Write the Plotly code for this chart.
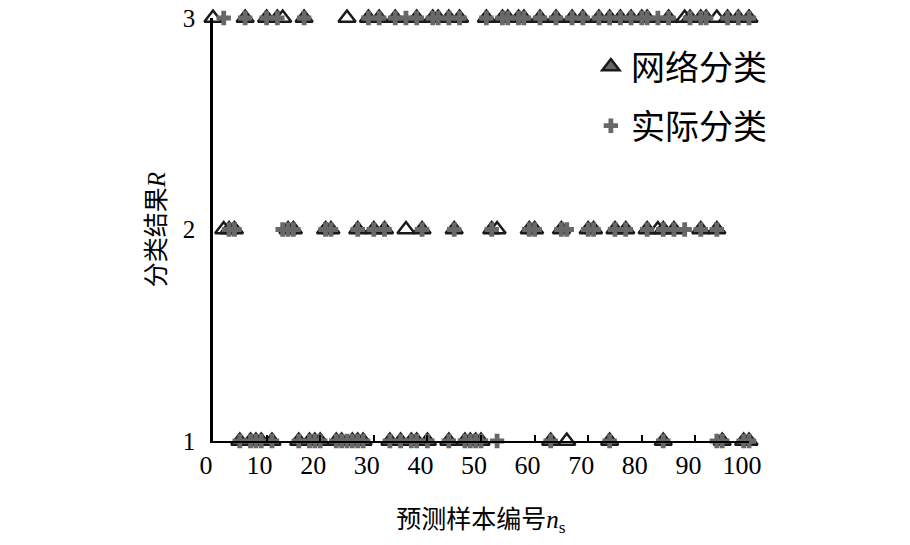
import plotly.graph_objects as go

# sample numbers, per class
net_class3 = [0, 6, 10, 12, 13, 17, 25, 29, 31, 34, 38, 41, 42, 44, 46, 51, 54, 55, 57, 58,
              61, 64, 67, 69, 72, 74, 76, 78, 80, 81, 85, 88, 89, 91, 92, 94, 96, 98, 100]
net_class2 = [2, 3, 4, 14, 15, 21, 22, 27, 30, 32, 36, 39, 45, 52, 53, 59, 60, 65, 70, 71,
              75, 77, 81, 83, 84, 86, 91, 94]
net_class1 = [5, 7, 8, 9, 11, 16, 18, 19, 20, 23, 24, 26, 27, 28, 33, 35, 37, 38, 40, 44,
              47, 48, 49, 50, 63, 66, 74, 84, 95, 99, 100]

act_class3 = [2, 6, 10, 12, 17, 29, 31, 34, 36, 38, 41, 42, 44, 46, 51, 54, 55, 57, 58, 61,
              64, 67, 69, 72, 74, 76, 78, 80, 81, 83, 85, 89, 91, 92, 96, 98, 100]
act_class2 = [3, 4, 13, 14, 15, 21, 22, 27, 30, 32, 39, 45, 52, 59, 60, 65, 66, 70, 71, 75,
              77, 81, 84, 86, 88, 91, 94]
act_class1 = [5, 7, 8, 9, 11, 16, 18, 19, 20, 23, 24, 25, 26, 27, 28, 33, 35, 37, 38, 40,
              44, 47, 48, 49, 50, 53, 63, 74, 84, 94, 95, 99, 100]

x_ticks = [0, 10, 20, 30, 40, 50, 60, 70, 80, 90, 100]
y_ticks = [1, 2, 3]

net_x = net_class1 + net_class2 + net_class3
net_y = [1] * len(net_class1) + [2] * len(net_class2) + [3] * len(net_class3)
act_x = act_class1 + act_class2 + act_class3
act_y = [1] * len(act_class1) + [2] * len(act_class2) + [3] * len(act_class3)

act_set = set(zip(act_x, act_y))
# where both agree the triangle looks filled in gray
net_fill = ['#666666' if (a, b) in act_set else 'white' for a, b in zip(net_x, net_y)]

serif = "'Liberation Serif', 'Times New Roman', 'Noto Sans CJK SC', serif"
cjk = "'Liberation Serif', 'Noto Sans CJK SC', serif"

fig = go.Figure()
fig.add_trace(go.Scatter(
    x=net_x, y=net_y, mode='markers', name='网络分类', legendgroup='a',
    marker=dict(symbol='triangle-up', size=15, color=net_fill,
                line=dict(color='#1a1a1a', width=2.5)),
    cliponaxis=False,
))
fig.add_trace(go.Scatter(
    x=act_x, y=act_y, mode='markers', name='实际分类', legendgroup='b',
    marker=dict(symbol='cross', size=12, color='#686868', line=dict(width=0)),
    cliponaxis=False,
))

# page adds a small offset, so margins are trimmed on the top/left
fig.update_layout(
    width=910, height=545,
    margin=dict(l=205, r=169, t=10, b=112, autoexpand=False),
    paper_bgcolor='white', plot_bgcolor='white',
    font=dict(family=serif, size=24, color='black'),
    showlegend=True,
    legend=dict(x=0.705, y=0.953, xanchor='left', yanchor='top',
                font=dict(family=cjk, size=34),
                traceorder='grouped', tracegroupgap=12,
                itemwidth=30, bgcolor='rgba(0,0,0,0)'),
)
fig.update_xaxes(
    range=[0, 100], tickvals=x_ticks, ticks='inside', ticklen=6, tickwidth=1.5,
    tickcolor='black', showline=True, linecolor='black', linewidth=2,
    showgrid=False, zeroline=False, ticklabelshift=-7, ticklabelstandoff=0,
    ticklabeloverflow='allow', automargin=False, tickfont=dict(family=serif, size=26),
    title=dict(text='预测样本编号<i>n</i><sub>s</sub>', standoff=31,
               font=dict(family=cjk, size=25)),
)
fig.update_yaxes(
    range=[1, 3], tickvals=y_ticks, ticks='', showline=True, linecolor='black',
    linewidth=2.5, showgrid=False, zeroline=False, ticklabelstandoff=10,
    ticklabeloverflow='allow', automargin=False, tickfont=dict(family=serif, size=25),
    title=dict(text='分类结果<i>R</i>', standoff=11, font=dict(family=cjk, size=25)),
)

fig.write_html("out.html")
